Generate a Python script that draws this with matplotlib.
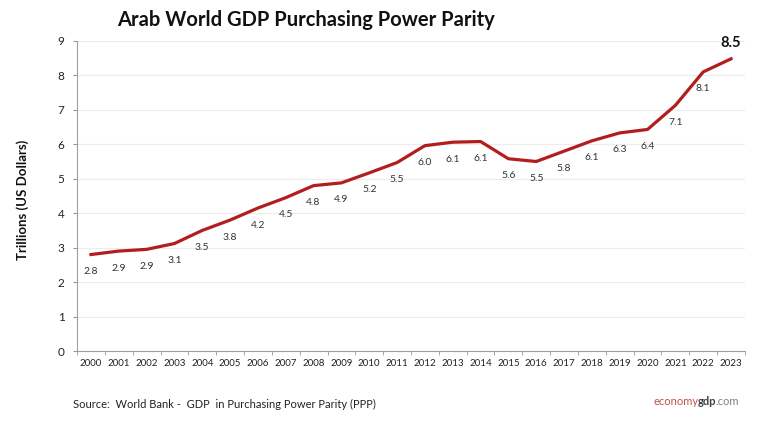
import matplotlib
matplotlib.use("Agg")
import matplotlib.pyplot as plt
from matplotlib.offsetbox import TextArea, HPacker, AnchoredOffsetbox
import numpy as np

years = [str(y) for y in range(2000, 2024)]
gdp = [2.80, 2.90, 2.95, 3.12, 3.50, 3.80, 4.15, 4.45, 4.80, 4.88, 5.17, 5.47,
       5.96, 6.06, 6.08, 5.58, 5.50, 5.80, 6.10, 6.33, 6.43, 7.13, 8.10, 8.48]
labels = ["2.8", "2.9", "2.9", "3.1", "3.5", "3.8", "4.2", "4.5", "4.8", "4.9", "5.2", "5.5",
          "6.0", "6.1", "6.1", "5.6", "5.5", "5.8", "6.1", "6.3", "6.4", "7.1", "8.1", "8.5"]

plt.rcParams['font.family'] = ['Lato', 'DejaVu Sans']

fig = plt.figure(figsize=(7.68, 4.26), dpi=100)
ax = fig.add_axes([0.1003, 0.176, 0.8697, 0.728])

x = np.arange(len(years))
ax.plot(x, gdp, color='#b21e1e', lw=2.3, solid_joinstyle='round', zorder=3)

for i, (v, lab) in enumerate(zip(gdp, labels)):
    if i == len(gdp) - 1:
        ax.annotate(lab, (i, v), xytext=(0, 6), textcoords='offset points',
                    ha='center', va='bottom', fontsize=10.5, fontweight='bold', color='#111111')
    else:
        ax.annotate(lab, (i, v), xytext=(0, -9), textcoords='offset points',
                    ha='center', va='top', fontsize=7.5, color='#333333')

ax.set_xlim(-0.5, len(years) - 0.5)
ax.set_ylim(0, 9)
ax.set_yticks(range(0, 10))
ax.set_xticks(x)
ax.set_xticklabels(years, fontsize=7)
ax.set_xticks(np.arange(-0.5, len(years)), minor=True)
ax.tick_params(axis='x', which='major', length=0, pad=6, colors='#222222')
ax.tick_params(axis='x', which='minor', length=3, color='#999999')
ax.tick_params(axis='y', length=3, color='#999999', labelsize=8.5, pad=6, labelcolor='#222222')

ax.grid(axis='y', color='#ececec', lw=0.8)
ax.set_axisbelow(True)
for s in ['top', 'right']:
    ax.spines[s].set_visible(False)
ax.spines['left'].set_color('#a0a0a0')
ax.spines['bottom'].set_color('#a0a0a0')

fig.text(0.030, 0.53, 'Trillions (US Dollars)', rotation=90, ha='center', va='center',
         fontsize=9.5, fontweight='bold', color='#111111')

fig.text(0.398, 0.952, 'Arab World GDP Purchasing Power Parity', ha='center', va='center',
         fontsize=14.5, fontweight='bold', color='#111111')

fig.text(0.095, 0.05, 'Source:  World Bank -  GDP  in Purchasing Power Parity (PPP)',
         ha='left', va='center', fontsize=8, color='#222222')

parts = [TextArea('economy', textprops=dict(fontsize=8, color='#c0504d')),
         TextArea('gdp', textprops=dict(fontsize=8, color='#404040', fontweight='bold')),
         TextArea('.com', textprops=dict(fontsize=8, color='#808080'))]
box = HPacker(children=parts, align='baseline', pad=0, sep=-0.8)
anch = AnchoredOffsetbox(loc='center right', child=box, pad=0, frameon=False,
                         bbox_to_anchor=(0.962, 0.058), bbox_transform=fig.transFigure,
                         borderpad=0)
fig.add_artist(anch)

fig.savefig('out.png', dpi=100)
